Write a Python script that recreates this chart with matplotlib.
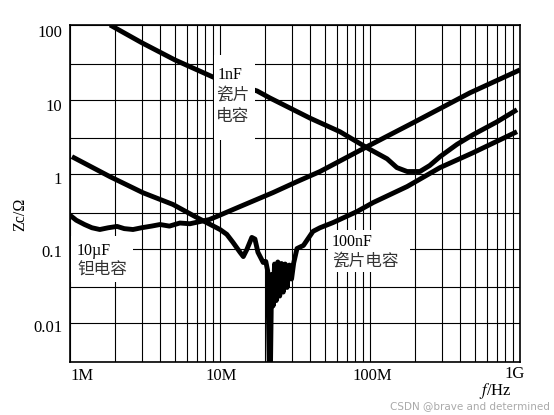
import matplotlib
matplotlib.use("Agg")
import matplotlib.pyplot as plt
from matplotlib.patches import Rectangle
from matplotlib.ticker import LogLocator, NullFormatter

# 阻抗-频率曲线

# 1nF 瓷片电容
f_1n = [1.85e6, 3e6, 5e6, 9.0e6, 1.77e7, 2.15e7, 4e7, 6.3e7, 9.55e7, 1.3e8, 1.51e8,
        1.77e8, 2.15e8, 2.5e8, 2.93e8, 3.8e8, 4.86e8, 7e8, 9.55e8]
z_1n = [100, 58, 34, 20, 13.0, 10.5, 5.6, 3.7, 2.25, 1.6, 1.22,
        1.08, 1.08, 1.3, 1.71, 2.5, 3.37, 5.0, 7.3]

# 100nF 瓷片电容
f_100n = [1.03e6, 1.85e6, 3.07e6, 4.86e6, 7.03e6, 1.0e7, 1.11e7, 1.22e7, 1.36e7, 1.43e7,
          1.51e7, 1.63e7, 1.71e7, 1.79e7, 1.94e7, 2.02e7, 2.08e7, 2.13e7, 2.17e7, 2.21e7,
          2.26e7, 2.31e7, 2.37e7, 2.43e7, 2.5e7, 2.57e7, 2.64e7, 2.72e7, 2.8e7, 2.9e7,
          3.0e7, 3.1e7, 3.26e7, 3.6e7, 4.17e7, 4.64e7, 5.67e7, 8.2e7, 1.05e8, 1.77e8,
          2.93e8, 4.86e8, 9.55e8]
z_100n = [1.71, 0.92, 0.56, 0.39, 0.26, 0.18, 0.155, 0.121, 0.089, 0.078,
          0.097, 0.141, 0.134, 0.089, 0.065, 0.067, 0.05, 0.0025, 0.0025, 0.045,
          0.017, 0.062, 0.02, 0.066, 0.023, 0.063, 0.026, 0.062, 0.03, 0.06,
          0.039, 0.064, 0.1, 0.11, 0.17, 0.19, 0.223, 0.314, 0.414, 0.68,
          1.22, 1.93, 3.7]

# 10uF 钽电容
f_10u = [1.0e6, 1.1e6, 1.25e6, 1.4e6, 1.58e6, 1.8e6, 2.06e6, 2.3e6, 2.63e6, 3.0e6,
         3.5e6, 3.98e6, 4.6e6, 5.4e6, 6.3e6, 7.36e6, 8.5e6, 9.55e6, 1.36e7, 2.26e7,
         3.26e7, 4.64e7, 9.55e7, 1.94e8, 4.64e8, 1.0e9]
z_10u = [0.28, 0.24, 0.21, 0.19, 0.18, 0.19, 0.198, 0.185, 0.18, 0.19,
         0.2, 0.21, 0.2, 0.22, 0.215, 0.23, 0.245, 0.27, 0.366, 0.564,
         0.79, 1.08, 2.33, 4.88, 12.3, 25]

x_ticks = [1e6, 1e7, 1e8, 1e9]
x_labels = ["1M", "10M", "100M", "1G"]
y_ticks = [100, 10, 1, 0.1, 0.01]
y_labels = ["100", "10", "1", "0.1", "0.01"]

serif = ["Liberation Serif", "DejaVu Serif"]
cjk = ["Noto Sans CJK SC", "DejaVu Sans"]

fig = plt.figure(figsize=(5.54, 4.15), dpi=100)
ax = fig.add_axes([70 / 554, 53 / 415, 450 / 554, 337 / 415])
ax.set_xscale("log")
ax.set_yscale("log")
ax.set_xlim(1e6, 1e9)
ax.set_ylim(0.003, 100)

ax.xaxis.set_major_locator(LogLocator(base=10))
ax.xaxis.set_minor_locator(LogLocator(base=10, subs=range(2, 10), numticks=20))
ax.yaxis.set_major_locator(LogLocator(base=10))
ax.yaxis.set_minor_locator(LogLocator(base=10, subs=[3], numticks=20))
ax.xaxis.set_minor_formatter(NullFormatter())
ax.yaxis.set_minor_formatter(NullFormatter())
ax.grid(which="both", axis="both", color="black", linewidth=0.8, zorder=0)
ax.set_axisbelow(True)
ax.tick_params(which="both", length=0, labelleft=False, labelbottom=False)
for s in ax.spines.values():
    s.set_linewidth(1.2)

lw = 3.5
ax.plot(f_1n, z_1n, color="black", linewidth=lw, solid_capstyle="butt", zorder=2)
ax.plot(f_100n, z_100n, color="black", linewidth=lw, solid_capstyle="butt", zorder=2)
ax.plot(f_10u, z_10u, color="black", linewidth=lw, solid_capstyle="butt", zorder=2)

# 刻度标签
y_off = [8, 7.5, 6, 4.5, 5]
for v, lab, dy in zip(y_ticks, y_labels, y_off):
    ax.annotate(lab, xy=(0, v), xycoords=("axes fraction", "data"),
                xytext=(-8, -dy), textcoords="offset pixels",
                ha="right", va="center", fontsize=12, family=serif)
x_ha = ["left", "center", "center", "center"]
x_dx = [0, 1, 2, -5]
x_dy = [-14, -14, -14, -12]
for v, lab, ha, dx, dy in zip(x_ticks, x_labels, x_ha, x_dx, x_dy):
    ax.annotate(lab, xy=(v, 0), xycoords=("data", "axes fraction"),
                xytext=(dx, dy), textcoords="offset pixels",
                ha=ha, va="center", fontsize=12, family=serif)

# 曲线标注（白底遮住网格）
boxes = [(0.32, 0.659, 0.091, 0.252), (0.002, 0.237, 0.138, 0.137), (0.573, 0.267, 0.183, 0.125)]
for x0, y0, w, h in boxes:
    ax.add_patch(Rectangle((x0, y0), w, h, transform=ax.transAxes,
                           facecolor="white", edgecolor="none", zorder=3))

ax.text(0.327, 0.840, "1nF", transform=ax.transAxes, ha="left", va="baseline",
        fontsize=11.5, family=serif, zorder=4)
ax.text(0.324, 0.793, "瓷片", transform=ax.transAxes, ha="left", va="center",
        fontsize=12, family=cjk, color="#333333", zorder=4)
ax.text(0.324, 0.728, "电容", transform=ax.transAxes, ha="left", va="center",
        fontsize=12, family=cjk, color="#333333", zorder=4)

ax.text(0.0156, 0.3175, "10µF", transform=ax.transAxes, ha="left", va="baseline",
        fontsize=11.5, family=serif, zorder=4)
ax.text(0.0156, 0.275, "钽电容", transform=ax.transAxes, ha="left", va="center",
        fontsize=12, family=cjk, color="#333333", zorder=4)

ax.text(0.582, 0.343, "100nF", transform=ax.transAxes, ha="left", va="baseline",
        fontsize=11.5, family=serif, zorder=4)
ax.text(0.582, 0.299, "瓷片电容", transform=ax.transAxes, ha="left", va="center",
        fontsize=12, family=cjk, color="#333333", zorder=4)

# 坐标轴名称
plt.rcParams["mathtext.fontset"] = "stix"
fig.text(20 / 554, 1 - 214 / 415, "Zc/Ω", rotation=90, ha="center", va="center",
         fontsize=11.5, family=serif)
fig.text(495 / 554, 1 - 391 / 415, "$f$/Hz", ha="center", va="center",
         fontsize=12, family=serif)
fig.text(550 / 554, 1 - 406 / 415, "CSDN @brave and determined", ha="right", va="center",
         fontsize=7.5, family=["DejaVu Sans"], color="#aaaaaa")

fig.savefig("out.png", dpi=100, facecolor="white")
